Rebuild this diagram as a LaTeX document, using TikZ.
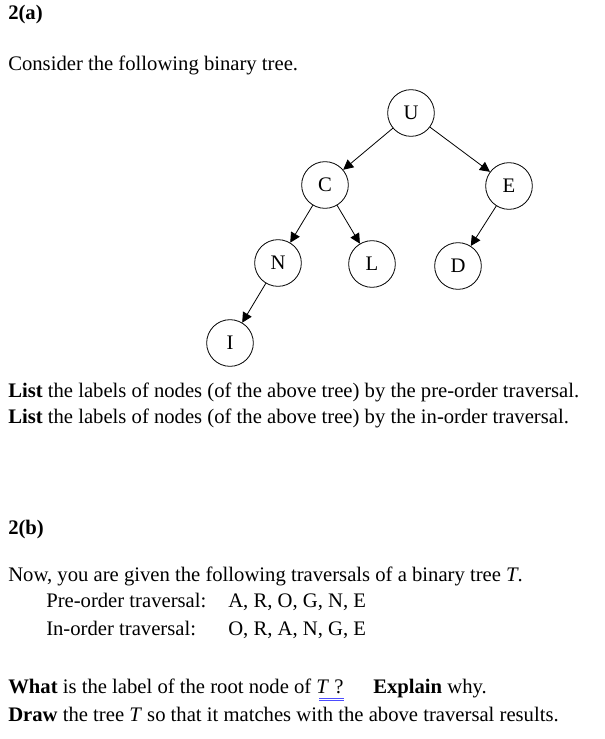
\documentclass[tikz,border=0pt]{standalone}
\usepackage{fontspec}
\setmainfont{Liberation Serif}
\usetikzlibrary{arrows.meta}

\begin{document}
\begin{tikzpicture}[x=0.75pt,y=-0.75pt,
	txt/.style={anchor=base west,inner sep=0,font=\fontsize{15.5}{18}\selectfont},
	vertex/.style={circle,draw,line width=0.6pt,minimum size=35pt,inner sep=0,font=\fontsize{15.5}{18}\selectfont},
	arc/.style={line width=0.6pt,-{Triangle[length=7.5pt,width=7.5pt]}}]
\useasboundingbox (0,0) rectangle (605,739);
%%%  part (a)
\node[txt] (heada) at (8,19) {\textbf{2(a)}};
\node[txt] (consider) at (8,70) {Consider the following binary tree.};
%%%  tree vertices
\foreach \n/\x/\y in {U/411/113,C/325/185,E/509/186,N/278/263,L/372/264,D/458/266,I/230/343}{%
	\node[vertex] (\n) at (\x,\y) {\n};
}
%%%%%%%%% draw arcs %%%%%%%%
\foreach \a/\b in {U/C,U/E,C/N,C/L,E/D,N/I}{%
	\draw[arc] (\a) -- (\b);
}
\node[txt] (listpre) at (8,397) {\textbf{List} the labels of nodes (of the above tree) by the pre-order traversal.};
\node[txt] (listin) at (8,423) {\textbf{List} the labels of nodes (of the above tree) by the in-order traversal.};
%%%  part (b)
\node[txt] (headb) at (8,534) {\textbf{2(b)}};
\node[txt] (given) at (8,581) {Now, you are given the following traversals of a binary tree \textit{T}.};
\node[txt] (prename) at (46,607) {Pre-order traversal:};
\node[txt] (preseq) at (228,607) {A, R, O, G, N, E};
\node[txt] (inname) at (46,635) {In-order traversal:};
\node[txt] (inseq) at (228,635) {O, R, A, N, G, E};
\node[txt] (what) at (8,693) {\textbf{What} is the label of the root node of \textit{T} ?};
\node[txt] (explain) at (373,693) {\textbf{Explain} why.};
\node[txt] (draw) at (8,721) {\textbf{Draw} the tree \textit{T} so that it matches with the above traversal results.};
%%%  double underline
\draw[blue!70!white,line width=0.6pt] (319,698) -- (344,698) (319,700.5) -- (344,700.5);
\end{tikzpicture}
\end{document}
